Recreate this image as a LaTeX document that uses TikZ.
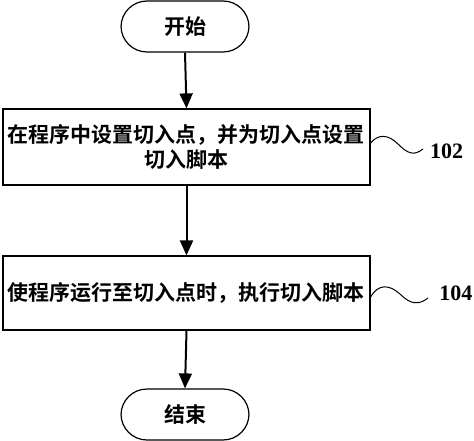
\documentclass[tikz,border=0pt]{standalone}
\usepackage{fontspec}
\newfontfamily\cjk{Noto Sans CJK SC}[BoldFont={Noto Sans CJK SC Bold}]
\newfontfamily\numfont{Liberation Serif}
\usetikzlibrary{arrows.meta}
\begin{document}
\begin{tikzpicture}[x=1pt,y=1pt,
  term/.style={draw, line width=1.2pt, rounded corners=26pt, minimum width=128pt, minimum height=51pt, font=\cjk\bfseries\fontsize{21}{24}\selectfont, inner sep=0pt},
  proc/.style={draw, line width=1.2pt, minimum width=367pt, inner sep=0pt, font=\cjk\bfseries\fontsize{21}{25}\selectfont, align=center},
  flow/.style={line width=2pt, -{Triangle[length=15pt,width=13pt]}},
  wave/.style={line width=1pt},
  num/.style={font=\numfont\bfseries\fontsize{22}{26}\selectfont, inner sep=0pt}]
\useasboundingbox (0,0) rectangle (474,-441);
\node[term] (start) at (185,-26.5) {开始};
\node[proc, minimum height=76pt] (p1) at (186.5,-147) {在程序中设置切入点，并为切入点设置\\切入脚本};
\node[proc, minimum height=74pt] (p2) at (186.5,-293) {使程序运行至切入点时，执行切入脚本};
\node[term] (end) at (185,-414.5) {结束};
\draw[flow] (start.south) -- (p1.north);
\draw[flow] (p1.south) -- (p2.north);
\draw[flow] (p2.south) -- (end.north);
\coordinate (w1s) at (p1.east |- 0,-143);
\coordinate (w1e) at (423,-149);
\draw[wave] (w1s) .. controls (378,-134) and (388,-134) .. (398,-144) .. controls (408,-154) and (414,-156) .. (w1e);
\node[num, anchor=west] (n102) at (430,-151) {102};
\coordinate (w2s) at (p2.east |- 0,-297);
\coordinate (w2e) at (428,-298);
\draw[wave] (w2s) .. controls (378,-284) and (389,-284) .. (400,-294) .. controls (411,-305) and (419,-305) .. (w2e);
\node[num, anchor=east] (n104) at (472.5,-293) {104};
\end{tikzpicture}
\end{document}
